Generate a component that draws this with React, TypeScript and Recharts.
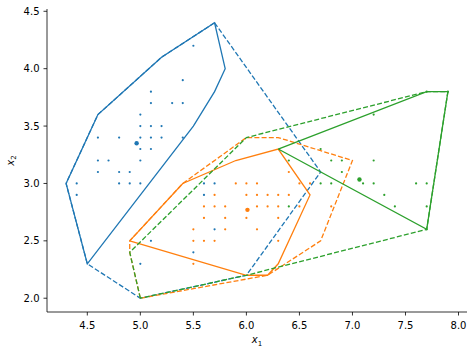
import { ScatterChart, Scatter, XAxis, YAxis } from "recharts";

const BLUE = "#1f77b4";
const ORANGE = "#ff7f0e";
const GREEN = "#2ca02c";

const xTicks = [4.5, 5.0, 5.5, 6.0, 6.5, 7.0, 7.5, 8.0];
const yTicks = [2.0, 2.5, 3.0, 3.5, 4.0, 4.5];

// class samples (small markers)
const blueDots = [
  { x: 5.5, y: 4.2 }, { x: 5.4, y: 3.9 }, { x: 5.1, y: 3.8 }, { x: 5.1, y: 3.7 },
  { x: 5.3, y: 3.7 }, { x: 5.4, y: 3.7 }, { x: 5.0, y: 3.6 }, { x: 5.0, y: 3.5 },
  { x: 5.1, y: 3.5 }, { x: 5.2, y: 3.5 }, { x: 4.6, y: 3.4 }, { x: 4.8, y: 3.4 },
  { x: 5.0, y: 3.4 }, { x: 5.1, y: 3.4 }, { x: 5.2, y: 3.4 }, { x: 5.4, y: 3.4 },
  { x: 5.0, y: 3.3 }, { x: 5.1, y: 3.3 }, { x: 4.6, y: 3.2 }, { x: 4.7, y: 3.2 },
  { x: 5.0, y: 3.2 }, { x: 4.6, y: 3.1 }, { x: 4.8, y: 3.1 }, { x: 4.9, y: 3.1 },
  { x: 4.4, y: 3.0 }, { x: 4.8, y: 3.0 }, { x: 4.9, y: 3.0 }, { x: 5.0, y: 3.0 },
  { x: 4.4, y: 2.9 }, { x: 5.1, y: 2.5 }, { x: 5.0, y: 2.3 }, { x: 5.5, y: 2.4 },
  { x: 5.6, y: 3.0 }, { x: 5.7, y: 3.0 }, { x: 5.6, y: 2.9 }, { x: 5.7, y: 2.6 },
];

const orangeDots = [
  { x: 6.4, y: 3.1 }, { x: 5.9, y: 3.0 }, { x: 6.0, y: 3.0 }, { x: 6.1, y: 3.0 },
  { x: 6.5, y: 3.0 }, { x: 6.6, y: 3.0 }, { x: 5.7, y: 2.9 }, { x: 6.0, y: 2.9 },
  { x: 6.1, y: 2.9 }, { x: 6.2, y: 2.9 }, { x: 6.3, y: 2.9 }, { x: 6.4, y: 2.9 },
  { x: 5.6, y: 2.8 }, { x: 5.7, y: 2.8 }, { x: 5.8, y: 2.8 }, { x: 6.1, y: 2.8 },
  { x: 6.2, y: 2.8 }, { x: 6.3, y: 2.8 }, { x: 6.5, y: 2.8 }, { x: 6.8, y: 2.8 },
  { x: 5.6, y: 2.7 }, { x: 5.8, y: 2.7 }, { x: 6.0, y: 2.7 }, { x: 6.3, y: 2.7 },
  { x: 5.5, y: 2.6 }, { x: 5.8, y: 2.6 }, { x: 6.1, y: 2.6 }, { x: 5.5, y: 2.5 },
  { x: 5.6, y: 2.5 }, { x: 5.7, y: 2.5 }, { x: 6.3, y: 2.5 }, { x: 5.5, y: 2.3 },
];

const greenDots = [
  { x: 7.2, y: 3.6 }, { x: 6.7, y: 3.3 }, { x: 6.4, y: 3.2 }, { x: 6.8, y: 3.2 },
  { x: 6.9, y: 3.2 }, { x: 7.2, y: 3.2 }, { x: 6.9, y: 3.1 }, { x: 6.7, y: 3.0 },
  { x: 6.8, y: 3.0 }, { x: 7.1, y: 3.0 }, { x: 7.2, y: 3.0 }, { x: 7.6, y: 3.0 },
  { x: 7.7, y: 3.0 }, { x: 7.3, y: 2.9 }, { x: 6.4, y: 2.8 }, { x: 7.4, y: 2.8 },
  { x: 7.7, y: 2.8 }, { x: 7.7, y: 3.8 }, { x: 7.9, y: 3.8 }, { x: 7.7, y: 2.6 },
];

const blueCenter = [{ x: 4.965, y: 3.35 }];
const orangeCenter = [{ x: 6.01, y: 2.77 }];
const greenCenter = [{ x: 7.066, y: 3.035 }];

// hull outlines (solid = inner, dashed = outer)
const blueHull = [
  { x: 4.3, y: 3.0 }, { x: 4.6, y: 3.6 }, { x: 5.2, y: 4.1 }, { x: 5.7, y: 4.4 },
  { x: 5.8, y: 4.0 }, { x: 5.7, y: 3.8 }, { x: 5.5, y: 3.5 }, { x: 4.5, y: 2.3 },
  { x: 4.3, y: 3.0 },
];
const blueOuter = [
  { x: 5.7, y: 4.4 }, { x: 6.7, y: 3.1 }, { x: 6.0, y: 2.2 }, { x: 5.0, y: 2.0 },
  { x: 4.5, y: 2.3 }, { x: 4.3, y: 3.0 }, { x: 4.6, y: 3.6 }, { x: 5.2, y: 4.1 },
  { x: 5.7, y: 4.4 },
];
const orangeHull = [
  { x: 4.9, y: 2.5 }, { x: 5.4, y: 3.0 }, { x: 5.9, y: 3.2 }, { x: 6.3, y: 3.3 },
  { x: 6.6, y: 2.9 }, { x: 6.3, y: 2.3 }, { x: 6.2, y: 2.2 }, { x: 6.0, y: 2.2 },
  { x: 4.9, y: 2.5 },
];
const orangeOuter = [
  { x: 5.0, y: 2.0 }, { x: 4.9, y: 2.4 }, { x: 4.9, y: 2.5 }, { x: 5.4, y: 3.0 },
  { x: 6.0, y: 3.4 }, { x: 6.3, y: 3.4 }, { x: 7.0, y: 3.2 }, { x: 6.7, y: 2.5 },
  { x: 6.2, y: 2.2 }, { x: 5.0, y: 2.0 },
];
const greenHull = [
  { x: 6.3, y: 3.3 }, { x: 7.7, y: 3.8 }, { x: 7.9, y: 3.8 }, { x: 7.7, y: 2.6 },
  { x: 6.3, y: 3.3 },
];
const greenOuter = [
  { x: 5.0, y: 2.0 }, { x: 4.9, y: 2.4 }, { x: 6.0, y: 3.4 }, { x: 7.7, y: 3.8 },
  { x: 7.9, y: 3.8 }, { x: 7.7, y: 2.6 }, { x: 6.0, y: 2.2 }, { x: 5.0, y: 2.0 },
];

const FONT = "DejaVu Sans";

const dot = (color: string, r: number) => (p: any) =>
  p.cx == null ? <g /> : <circle cx={p.cx} cy={p.cy} r={r} fill={color} />;
const noShape = () => <g />;

const solid = (c: string) => ({ stroke: c, strokeWidth: 1.3 });
const dashed = (c: string) => ({ stroke: c, strokeWidth: 1.3, strokeDasharray: "5 2.2" });

function XLabel(props: any) {
  const { x, y, width } = props.viewBox;
  return (
    <text x={x + width / 2} y={y + 31} textAnchor="middle" fontFamily={FONT} fontSize={10} fill="#000">
      <tspan fontStyle="italic">x</tspan>
      <tspan fontSize={7} dy={2.5}>1</tspan>
    </text>
  );
}

function YLabel(props: any) {
  const { y, height } = props.viewBox;
  const cx = 13.5;
  const cy = y + height / 2;
  return (
    <text x={cx} y={cy} transform={`rotate(-90, ${cx}, ${cy})`} textAnchor="middle" fontFamily={FONT} fontSize={10} fill="#000">
      <tspan fontStyle="italic">x</tspan>
      <tspan fontSize={7} dy={2.5}>2</tspan>
    </text>
  );
}

export default function App() {
  const tick = { fill: "#000", fontSize: 10, fontFamily: FONT };
  const axisLine = { stroke: "#000", strokeWidth: 0.8 };
  return (
    <div style={{ position: "absolute", left: 0, top: 0, background: "#fff" }}>
      <ScatterChart width={474} height={353} margin={{ top: 9, right: 7, bottom: 0, left: 0 }}>
        <XAxis
          dataKey="x"
          type="number"
          domain={[4.12, 8.08]}
          ticks={xTicks}
          interval={0}
          allowDataOverflow
          tickFormatter={(v: number) => v.toFixed(1)}
          height={41}
          tickSize={3.5}
          tickMargin={6}
          tick={tick}
          axisLine={axisLine}
          tickLine={axisLine}
          label={<XLabel />}
        />
        <YAxis
          dataKey="y"
          type="number"
          domain={[1.88, 4.52]}
          ticks={yTicks}
          interval={0}
          allowDataOverflow
          tickFormatter={(v: number) => v.toFixed(1)}
          width={47}
          tickSize={3.5}
          tickMargin={4}
          tick={tick}
          axisLine={axisLine}
          tickLine={axisLine}
          label={<YLabel />}
        />
        <XAxis xAxisId="top" orientation="top" type="number" domain={[0, 1]} tick={false} tickLine={false} height={0} axisLine={axisLine} />
        <YAxis yAxisId="right" orientation="right" type="number" domain={[0, 1]} tick={false} tickLine={false} width={0} axisLine={axisLine} />

        <Scatter data={blueDots} shape={dot(BLUE, 1.1)} isAnimationActive={false} />
        <Scatter data={orangeDots} shape={dot(ORANGE, 1.1)} isAnimationActive={false} />
        <Scatter data={greenDots} shape={dot(GREEN, 1.1)} isAnimationActive={false} />
        <Scatter data={blueCenter} shape={dot(BLUE, 2.2)} isAnimationActive={false} />
        <Scatter data={orangeCenter} shape={dot(ORANGE, 2.2)} isAnimationActive={false} />
        <Scatter data={greenCenter} shape={dot(GREEN, 2.2)} isAnimationActive={false} />

        <Scatter data={blueHull} line={solid(BLUE)} shape={noShape} isAnimationActive={false} />
        <Scatter data={blueOuter} line={dashed(BLUE)} shape={noShape} isAnimationActive={false} />
        <Scatter data={orangeHull} line={solid(ORANGE)} shape={noShape} isAnimationActive={false} />
        <Scatter data={orangeOuter} line={dashed(ORANGE)} shape={noShape} isAnimationActive={false} />
        <Scatter data={greenHull} line={solid(GREEN)} shape={noShape} isAnimationActive={false} />
        <Scatter data={greenOuter} line={dashed(GREEN)} shape={noShape} isAnimationActive={false} />
      </ScatterChart>
    </div>
  );
}
